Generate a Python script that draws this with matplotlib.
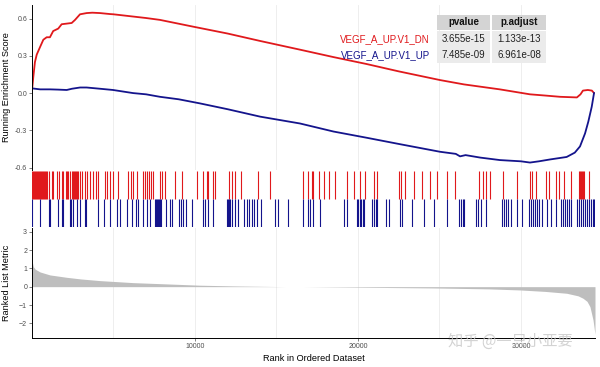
import numpy as np
import matplotlib
matplotlib.use("Agg")
import matplotlib.pyplot as plt
from matplotlib.patches import Rectangle

plt.rcParams["font.family"] = ["Liberation Sans", "DejaVu Sans"]

RED = "#E0191C"
BLUE = "#14148C"
N_GENES = 34540

# running enrichment score
red_rank = [0, 80, 180, 290, 490, 695, 900, 1100, 1300, 1610, 1820, 2130, 2435, 2640,
            2945, 3355, 3700, 4170, 4785, 5000, 6000, 7000, 7850, 9900, 12000, 14000,
            16440, 18500, 20500, 22500, 25030, 26500, 28700, 30550, 31500, 32400,
            33430, 33650, 33800, 34100, 34350, 34480]
red_es = [0.02, 0.13, 0.25, 0.31, 0.37, 0.43, 0.45, 0.45, 0.50, 0.52, 0.555, 0.56, 0.565, 0.59,
          0.635, 0.645, 0.648, 0.645, 0.637, 0.635, 0.62, 0.605, 0.59, 0.535, 0.48, 0.42,
          0.35, 0.29, 0.235, 0.175, 0.105, 0.07, 0.03, -0.01, -0.02, -0.03,
          -0.035, -0.01, 0.02, 0.025, 0.02, 0.0]

blue_rank = [0, 500, 1100, 1600, 2130, 2450, 2950, 3350, 4170, 4970, 6200, 7000, 7850,
             9000, 10300, 12000, 14000, 16440, 18500, 20530, 22500, 25030, 26000, 26260,
             26600, 27500, 28710, 30000, 30550, 31100, 31780, 32800, 33300, 33620, 33930,
             34130, 34340, 34480]
blue_es = [0.038, 0.03, 0.03, 0.028, 0.025, 0.035, 0.045, 0.045, 0.035, 0.025, 0.0, -0.01, -0.03,
           -0.05, -0.083, -0.13, -0.19, -0.245, -0.31, -0.36, -0.41, -0.473, -0.49, -0.51,
           -0.5, -0.52, -0.54, -0.55, -0.56, -0.55, -0.535, -0.515, -0.48, -0.43, -0.325,
           -0.23, -0.11, 0.0]

# hit positions (rank) for each gene set
red_hits = [0, 60, 120, 180, 240, 300, 370, 430, 490, 550, 610, 680, 740, 800, 860, 920,
            1043, 1227, 1288, 1534, 1656, 1840, 1902, 2086, 2147, 2209, 2331, 2454, 2515,
            2577, 2638, 2699, 2761, 2822, 2945, 3067, 3252, 3374, 3558, 3742, 3926, 4049,
            4479, 4601, 4785, 4969, 5276, 5890, 6074, 6196, 6442, 6810, 6933, 7055, 7178,
            7300, 7423, 7853, 7976, 8160, 8773, 9202, 10123, 10491, 10736, 10798, 11104,
            11227, 12086, 12270, 12454, 12822, 13865, 14601, 16626, 16933, 17178, 17239,
            17607, 17914, 18221, 18589, 19325, 19755, 20123, 20429, 20982, 21166, 22515,
            22638, 22883, 23436, 23926, 24417, 24847, 25460, 25951, 27423, 27669, 27853,
            28098, 28896, 29755, 30552, 30675, 30920, 31534, 31718, 32147, 32331, 32638,
            33067, 33558, 33620, 33681, 33742, 33804, 33865, 34172]
blue_hits = [0, 491, 1043, 1104, 1595, 1840, 1902, 2331, 2393, 2515, 2761, 2945, 3252, 3313,
             4049, 4417, 4785, 5215, 5399, 5828, 6135, 6380, 6503, 6810, 7055, 7239, 7546,
             7607, 7669, 7730, 7791, 7853, 7914, 8221, 8466, 8589, 9018, 9141, 9264, 9448,
             9816, 10491, 10614, 10798, 11104, 11963, 12025, 12086, 12147, 12270, 12454,
             12638, 13006, 13190, 13313, 13497, 13620, 13804, 14049, 14908, 15092, 15706,
             16626, 16933, 17055, 17239, 17669, 19141, 19325, 19939, 20000, 20123, 20184,
             20307, 20368, 20859, 20982, 21104, 21166, 21718, 21902, 22577, 22699, 23313,
             24049, 24663, 25460, 26196, 26319, 26442, 26503, 27239, 27362, 27546, 27853,
             28834, 28957, 29080, 29202, 29387, 29755, 30061, 30491, 30614, 30736, 30859,
             30982, 31104, 31288, 31595, 31840, 32147, 32454, 32577, 32699, 32822, 32945,
             33067, 33436, 33558, 33681, 33804, 33926, 34049, 34172, 34294, 34417, 34479]

# ranked list metric (descending)
metric_rank = [0, 30, 80, 200, 500, 1100, 2130, 3000, 4170, 6200, 8280, 10300, 12400,
               14000, 14850, 15500, 16600, 20000, 24600, 28000, 29950, 31500, 32800,
               33500, 33800, 34050, 34230, 34420, 34540]
metric = [1.7, 1.3, 1.09, 0.95, 0.8, 0.64, 0.51, 0.42, 0.33, 0.22, 0.15, 0.08, 0.04,
          0.02, 0.01, 0.0, 0.0, -0.03, -0.07, -0.12, -0.18, -0.26, -0.36,
          -0.5, -0.63, -0.8, -1.09, -1.82, -2.6]

set_names = ["VEGF_A_UP.V1_DN", "VEGF_A_UP.V1_UP"]
pvalues = ["3.655e-15", "7.485e-09"]
padjust = ["1.133e-13", "6.961e-08"]
set_colors = [RED, BLUE]

W, H = 600, 367
fig = plt.figure(figsize=(6, 3.67), dpi=100)


def px_axes(x0, y0, x1, y1):
    return fig.add_axes([x0 / W, 1 - y1 / H, (x1 - x0) / W, (y1 - y0) / H])


grid_x = [5000, 10000, 15000, 20000, 25000, 30000]

# running score panel
ax1 = px_axes(32, 5, 595, 170)
for gx in grid_x:
    ax1.axvline(gx, color="#EBEBEB", lw=0.6, zorder=0)
ax1.plot(red_rank, red_es, color=RED, lw=1.3)
ax1.plot(blue_rank, blue_es, color=BLUE, lw=1.3)
ax1.set_xlim(0, N_GENES)
ax1.set_ylim(-0.62, 0.71)
ax1.set_yticks([-0.6, -0.3, 0.0, 0.3, 0.6])
ax1.set_yticklabels(["-0.6", "-0.3", "0.0", "0.3", "0.6"])
ax1.set_xticks([])
for s in ["top", "right", "bottom"]:
    ax1.spines[s].set_visible(False)
ax1.spines["left"].set_linewidth(0.7)
ax1.tick_params(axis="y", labelsize=5, colors="#4D4D4D", length=2, width=0.5, pad=1.5)
ax1.set_ylabel("Running Enrichment Score", fontsize=6.6, labelpad=3)

# hit rug panel
ax2 = px_axes(32, 171, 595, 227)
ax2.vlines(red_hits, 0.5, 1.0, color=RED, lw=0.8)
ax2.vlines(blue_hits, 0.0, 0.5, color=BLUE, lw=0.8)
ax2.set_xlim(0, N_GENES)
ax2.set_ylim(0, 1)
ax2.axis("off")

# ranked metric panel
ax3 = px_axes(32, 228, 595, 338)
for gx in grid_x:
    ax3.axvline(gx, color="#EBEBEB", lw=0.6, zorder=0)
ax3.fill_between(metric_rank, metric, 0, color="#BEBEBE", lw=0)
ax3.set_xlim(0, N_GENES)
ax3.set_ylim(-2.8, 3.2)
ax3.set_yticks([-2, -1, 0, 1, 2, 3])
ax3.set_xticks([10000, 20000, 30000])
for s in ["top", "right"]:
    ax3.spines[s].set_visible(False)
ax3.spines["left"].set_linewidth(0.7)
ax3.spines["bottom"].set_linewidth(0.7)
ax3.tick_params(labelsize=5, colors="#4D4D4D", length=2, width=0.5, pad=1.5)
ax3.set_ylabel("Ranked List Metric", fontsize=6.6, labelpad=6)
ax3.set_xlabel("Rank in Ordered Dataset", fontsize=6.6, labelpad=3)

# p-value table
col_x = [(437, 490), (492, 546)]
row_y = [(15, 29.5), (31, 46.5), (47.5, 63)]
headers = ["pvalue", "p.adjust"]
for (x0, x1), head in zip(col_x, headers):
    y0, y1 = row_y[0]
    fig.patches.append(Rectangle((x0 / W, 1 - y1 / H), (x1 - x0) / W, (y1 - y0) / H,
                                 transform=fig.transFigure, color="#D4D4D4", lw=0))
    fig.text((x0 + x1) / 2 / W, 1 - (y0 + y1) / 2 / H, head, ha="center", va="center",
             fontsize=7, fontweight="bold", color="#111111")
for i, name in enumerate(set_names):
    y0, y1 = row_y[i + 1]
    yc = 1 - (y0 + y1) / 2 / H
    fig.text(430 / W, yc, name, ha="right", va="center", fontsize=7, color=set_colors[i])
    for (x0, x1), val in zip(col_x, [pvalues[i], padjust[i]]):
        fig.patches.append(Rectangle((x0 / W, 1 - y1 / H), (x1 - x0) / W, (y1 - y0) / H,
                                     transform=fig.transFigure, color="#EBEBEB", lw=0))
        fig.text((x0 + x1) / 2 / W, yc, val, ha="center", va="center",
                 fontsize=7, color="#222222")

# watermark
fig.text(510 / W, 1 - 341 / H, "知乎 @一只小亚要", ha="center", va="center",
         fontsize=11, color="#C8C8C8", alpha=0.8,
         family=["Noto Sans CJK SC", "DejaVu Sans"])

fig.savefig("out.png", dpi=100)
